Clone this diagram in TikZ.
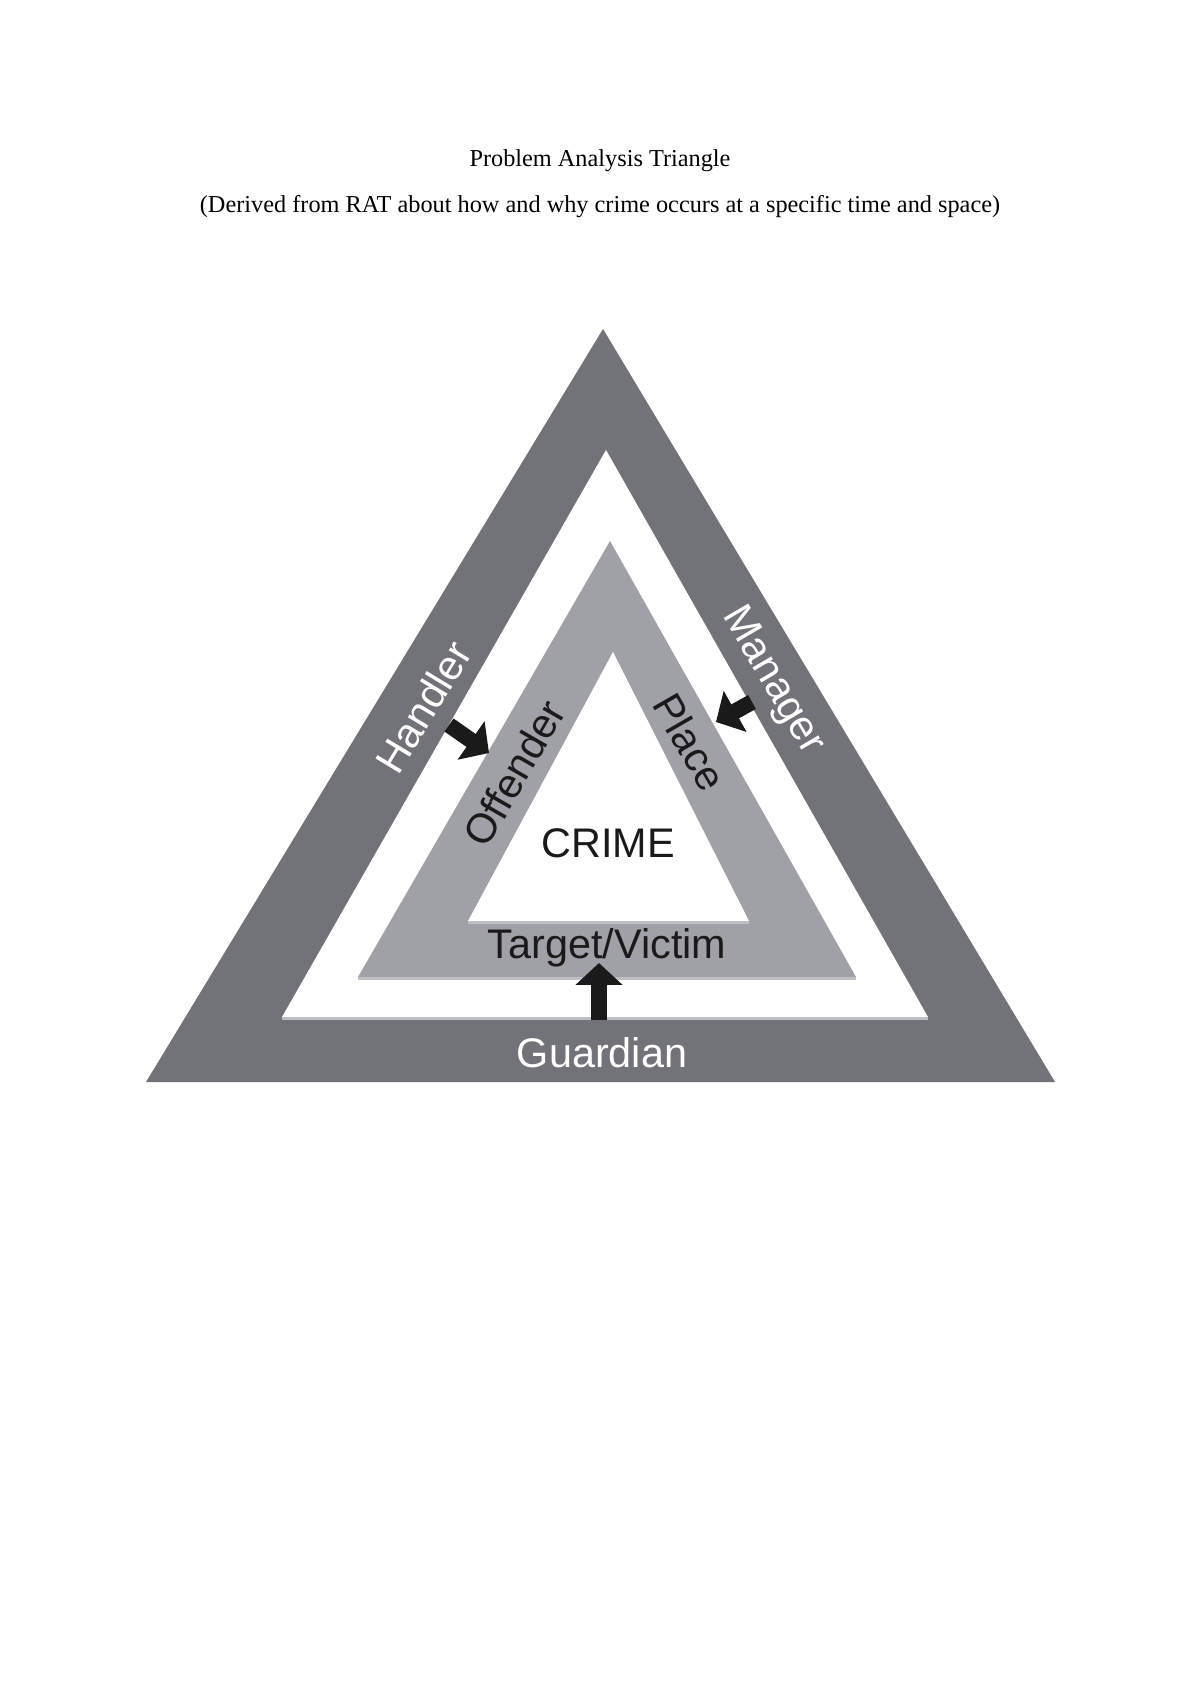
\documentclass[tikz,border=0pt]{standalone}
\usepackage{fontspec}
\setmainfont{Liberation Serif}
\setsansfont{Liberation Sans}
\usetikzlibrary{arrows.meta}
\definecolor{bandDark}{RGB}{114,115,120}
\definecolor{bandLight}{RGB}{160,161,166}
\definecolor{edgeLight}{RGB}{190,191,195}
\definecolor{inkBlack}{RGB}{26,26,26}
\begin{document}
\begin{tikzpicture}[x=0.0175cm,y=-0.0175cm]
\tikzstyle{every node}+=[inner sep=0pt]
\tikzstyle{sideLabel}=[font=\sffamily\fontsize{20.6}{24}\selectfont, text depth=0pt]
\tikzstyle{fatArrow}=[draw=inkBlack, line width=7.9pt, -{Triangle[width=22.8pt,length=10.9pt]}]
\useasboundingbox (0,0) rectangle (1200,1696);
\node [font=\fontsize{12.1}{14}\selectfont, anchor=base] (title) at (600,167) {Problem Analysis Triangle};
\node [font=\fontsize{12.1}{14}\selectfont, anchor=base] (subtitle) at (600,213) {(Derived from RAT about how and why crime occurs at a specific time and space)};
\fill [bandDark] (146,1082) -- (603,329) -- (1055,1082) -- cycle;
\fill [white] (282,1017) -- (606,450) -- (928,1017) -- cycle;
\fill [bandLight] (358,977) -- (610,541) -- (856,977) -- cycle;
\fill [white] (468,921) -- (613,652) -- (749,921) -- cycle;
\draw [edgeLight, line width=1.5pt] (282,1018.5) -- (928,1018.5);
\draw [edgeLight, line width=1.5pt] (358,978) -- (856,978);
\draw [edgeLight, line width=1.5pt] (468,922) -- (749,922);
\node [sideLabel, text=white, rotate=58.8] (handler) at (423,707) {Handler};
\node [sideLabel, text=white, rotate=-59.5] (manager) at (776,679) {Manager};
\node [sideLabel, text=inkBlack, rotate=60] (offender) at (514,773) {Offender};
\node [sideLabel, text=inkBlack, rotate=-60] (place) at (690,742) {Place};
\node [sideLabel, text=inkBlack, anchor=base] (crime) at (608,857) {CRIME};
\node [sideLabel, text=inkBlack, anchor=base] (target) at (607,958) {Target/Victim};
\node [sideLabel, text=white, anchor=base] (guardian) at (602,1067) {Guardian};
\coordinate (handlerTail) at (449,725);
\coordinate (handlerTip) at (489,753);
\coordinate (managerTail) at (752,702);
\coordinate (managerTip) at (716,722);
\coordinate (guardianTail) at (599,1020);
\coordinate (guardianTip) at (599,963);
\draw [fatArrow] (handlerTail) -- (handlerTip);
\draw [fatArrow] (managerTail) -- (managerTip);
\draw [fatArrow] (guardianTail) -- (guardianTip);
\end{tikzpicture}
\end{document}
